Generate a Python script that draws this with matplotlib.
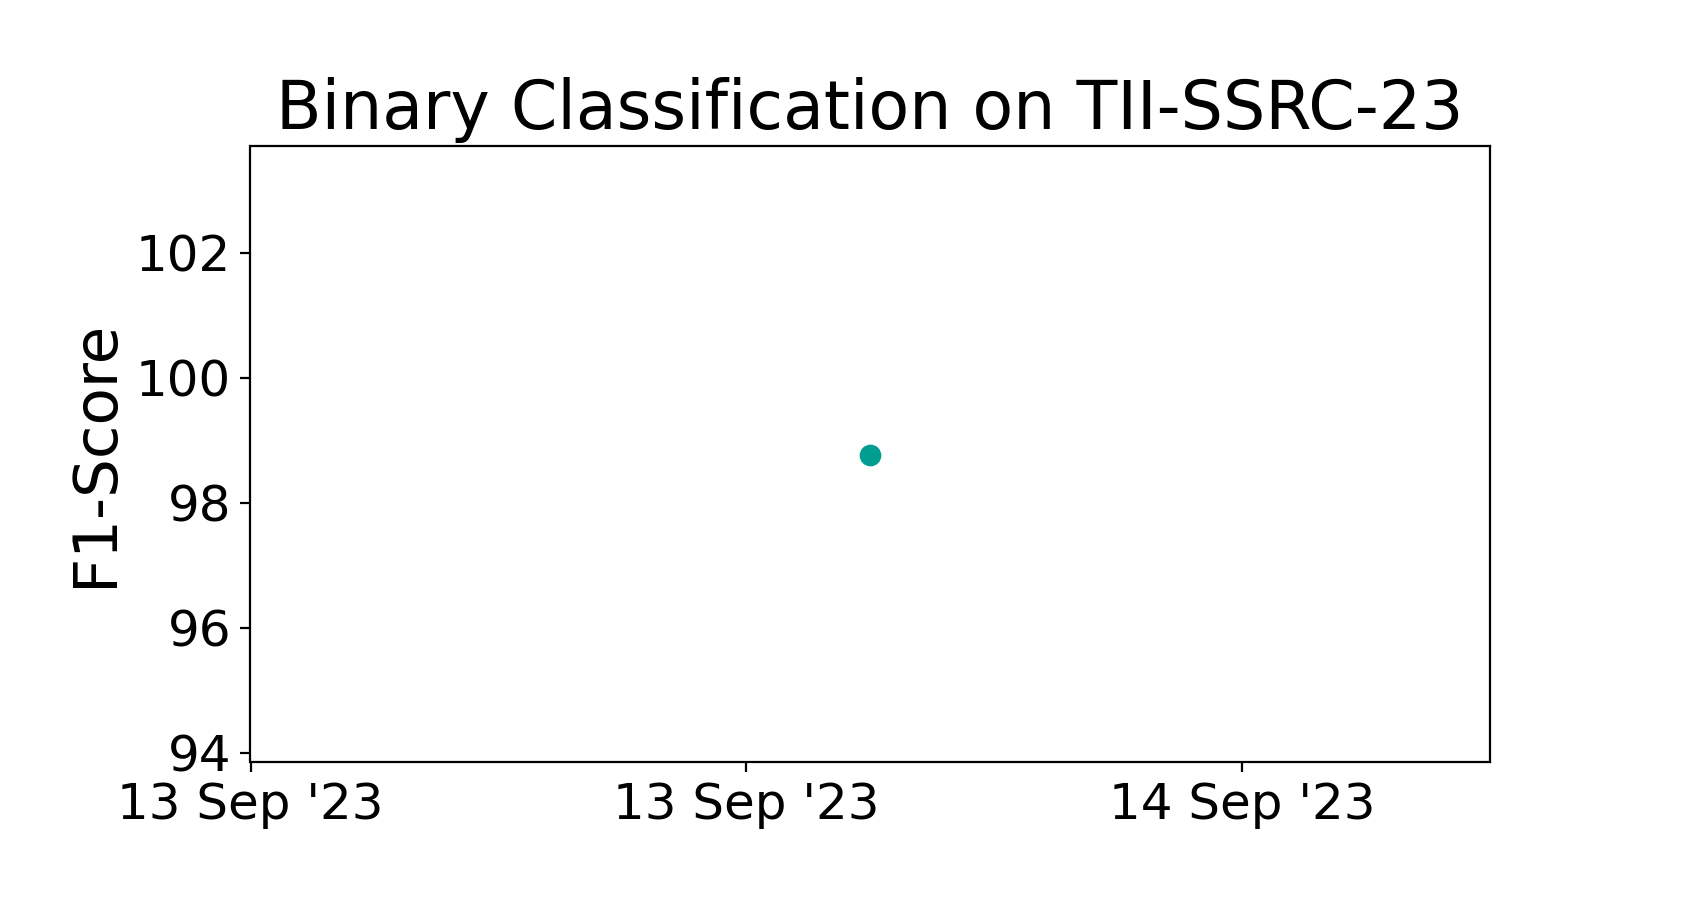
import matplotlib
matplotlib.use("Agg")
import matplotlib.pyplot as plt
import matplotlib.dates as mdates
from datetime import datetime, timedelta

# datos del punto (fecha del resultado y F1)
fechas = [datetime(2023, 9, 13, 15, 0)]
f1_score = [98.77]
titulo = "Binary Classification on TII-SSRC-23"

fig = plt.figure(figsize=(8.5, 4.5), dpi=200)
ax = fig.add_axes([250.5 / 1700, 1 - 762 / 900, (1489.7 - 250.5) / 1700, (762 - 145.5) / 900])

ax.plot(fechas, f1_score, "o", color="#009e90", markersize=6.8)

ax.set_xlim(fechas[0] - timedelta(hours=15), fechas[0] + timedelta(hours=15))
ax.set_ylim(f1_score[0] - 4.915, f1_score[0] + 4.945)
ax.xaxis.set_major_locator(mdates.HourLocator(byhour=[0, 12]))
ax.xaxis.set_major_formatter(mdates.DateFormatter("%d %b '%y"))
ax.set_yticks([94, 96, 98, 100, 102])

ax.tick_params(labelsize=18)
ax.set_ylabel("F1-Score", fontsize=22)
ax.set_title(titulo, fontsize=24)

fig.savefig("out.png", dpi=200)
